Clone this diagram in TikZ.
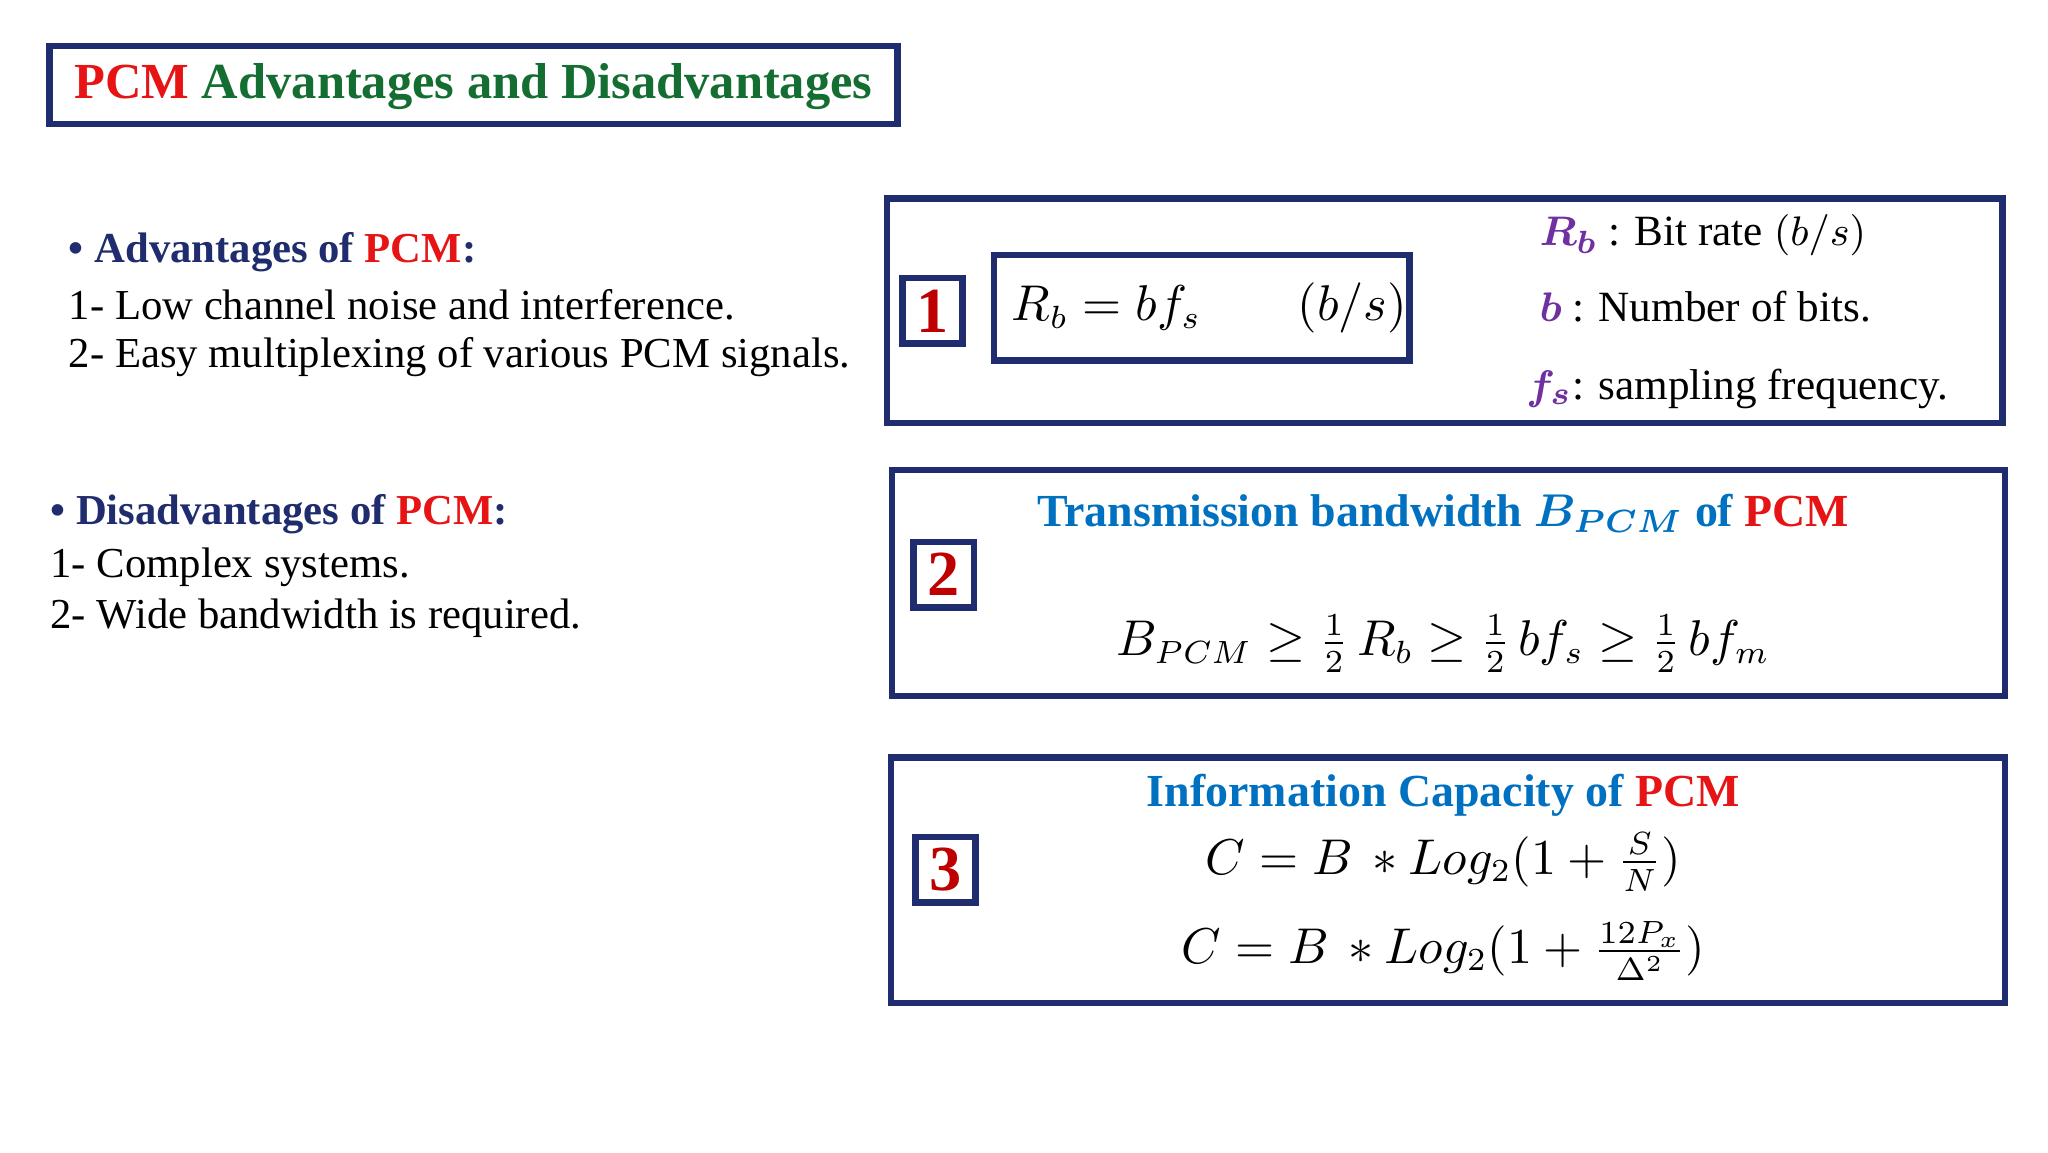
\documentclass[tikz,border=0pt]{standalone}
\usepackage{amsmath}
\usepackage{fontspec}
\setmainfont{Liberation Serif}
\definecolor{navy}{RGB}{31,45,110}
\definecolor{pcmred}{RGB}{230,20,20}
\definecolor{pcmgreen}{RGB}{20,110,50}
\definecolor{pcmblue}{RGB}{0,112,192}
\definecolor{pcmpurple}{RGB}{112,48,160}
\definecolor{numred}{RGB}{190,0,0}
\tikzset{>=stealth,
  frame/.style={draw=navy, line width=1.4pt},
  numbox/.style={draw=navy, line width=1.4pt, minimum width=0.46cm, minimum height=0.5cm,
    inner sep=0pt, text=numred, font=\fontsize{14}{14}\selectfont\bfseries},
  body/.style={anchor=west, inner sep=0pt, font=\fontsize{9.3}{11}\selectfont},
  side/.style={anchor=west, inner sep=0pt, font=\fontsize{9.4}{11}\selectfont},
  head/.style={inner sep=0pt, text=pcmblue, font=\fontsize{10}{12}\selectfont\bfseries}}

\begin{document}
\begin{tikzpicture}[x=1cm,y=1cm]
    \useasboundingbox (0,0) rectangle (15.68,-8.82);
    % title
    \draw[frame] (0.38,-0.35) rectangle (6.87,-0.95);
    \node (title) at (3.625,-0.66) {\fontsize{11}{13}\selectfont\bfseries\textcolor{pcmred}{PCM} \textcolor{pcmgreen}{Advantages and Disadvantages}};
    % left column
    \node[body] (adv) at (0.52,-1.93) {\bfseries\textcolor{navy}{• Advantages of} \textcolor{pcmred}{PCM}\textcolor{navy}{:}};
    \node[body] (adv1) at (0.52,-2.33) {1- Low channel noise and interference.};
    \node[body] (adv2) at (0.52,-2.73) {2- Easy multiplexing of various PCM signals.};
    \node[body] (dis) at (0.38,-3.94) {\bfseries\textcolor{navy}{• Disadvantages of} \textcolor{pcmred}{PCM}\textcolor{navy}{:}};
    \node[body] (dis1) at (0.38,-4.34) {1- Complex systems.};
    \node[body] (dis2) at (0.38,-4.73) {2- Wide bandwidth is required.};
    % box 1
    \draw[frame] (6.79,-1.52) rectangle (15.33,-3.24);
    \node[numbox] (n1) at (7.14,-2.38) {1};
    \draw[frame] (7.61,-1.95) rectangle (10.79,-2.76);
    \node[anchor=west, inner sep=0pt, font=\fontsize{10.5}{13}\selectfont] (rb) at (7.74,-2.36) {$R_b = b f_s \qquad (b/s)$};
    \node[side] (d1) at (11.78,-1.80) {\textcolor{pcmpurple}{$\boldsymbol{R_b}$} : Bit rate $(b/s)$};
    \node[side] (d2) at (11.78,-2.35) {\textcolor{pcmpurple}{$\boldsymbol{b}$} : Number of bits.};
    \node[side] (d3) at (11.68,-2.98) {\textcolor{pcmpurple}{$\boldsymbol{f_s}$}: sampling frequency.};
    % box 2
    \draw[frame] (6.83,-3.60) rectangle (15.35,-5.33);
    \node[numbox] (n2) at (7.225,-4.40) {2};
    \node[head] (h2) at (11.05,-3.93) {Transmission bandwidth $\boldsymbol{B_{PCM}}$ of \textcolor{pcmred}{PCM}};
    \node[font=\fontsize{10.5}{13}\selectfont] (f2) at (11.05,-4.93) {$B_{PCM} \geq \tfrac{1}{2}\, R_b \geq \tfrac{1}{2}\, b f_s \geq \tfrac{1}{2}\, b f_m$};
    % box 3
    \draw[frame] (6.82,-5.80) rectangle (15.35,-7.68);
    \node[numbox] (n3) at (7.24,-6.66) {3};
    \node[head] (h3) at (11.05,-6.09) {Information Capacity of \textcolor{pcmred}{PCM}};
    \node[font=\fontsize{10.5}{13}\selectfont] (f3a) at (11.05,-6.60) {$C = B\, * Log_2(1 + \frac{S}{N})$};
    \node[font=\fontsize{10.5}{13}\selectfont] (f3b) at (11.05,-7.28) {$C = B\, * Log_2(1 + \frac{12P_x}{\Delta^2})$};
\end{tikzpicture}
\end{document}
